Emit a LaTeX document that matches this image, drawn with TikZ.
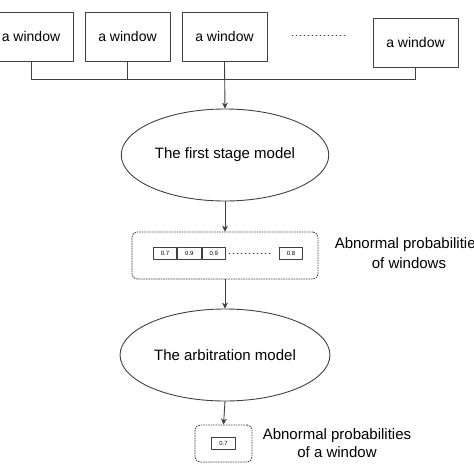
\documentclass[tikz,border=0pt]{standalone}
\usepackage{fontspec}
\setmainfont{Liberation Sans}
\usetikzlibrary{shapes.geometric, arrows.meta}
\tikzset{
	win/.style={draw, minimum width=85pt, minimum height=49pt, font=\fontsize{14}{16}\selectfont},
	model/.style={draw, ellipse, minimum width=176pt, minimum height=92pt, font=\fontsize{15}{17}\selectfont},
	group/.style={draw, dash pattern=on 1pt off 1.5pt, rounded corners=5pt},
	cell/.style={draw, minimum width=23.5pt, minimum height=12pt, inner sep=0pt, font=\fontsize{6}{7}\selectfont},
	note/.style={align=center}
}
\begin{document}
\begin{tikzpicture}[x=1pt, y=-1pt, >={Stealth[length=6pt, width=6pt]}, line cap = round, line join = round, line width=0.9pt, draw=black!75]
		\useasboundingbox (0,0) rectangle (474,474);
		% windows
		\node[win, minimum width=84pt] (w1) at (31,36.5) {a window};
		\node[win] (w2) at (127.5,36.5) {a window};
		\node[win] (w3) at (224.5,36.5) {a window};
		\node[win] (w5) at (415.5,42.5) {a window};
		\draw[line width=0.9pt, dash pattern=on 1pt off 3pt] (292,35)--(347,35);
		\coordinate (bus) at (0,79);
		\draw (w1.south) |- (w5.south |- bus)--(w5.south);
		\draw (w2.south)--(w2.south |- bus);
		% models
		\node[model] (m1) at (225,155) {The first stage model};
		\node[model] (m2) at (225,355) {The arbitration model};
		% probabilities
		\node[group, minimum width=186pt, minimum height=47pt] (probs) at (225,255.5) {};
		\node[cell] (p1) at (165,253) {0.7};
		\node[cell, anchor=west] (p2) at (p1.east) {0.9};
		\node[cell, anchor=west] (p3) at (p2.east) {0.9};
		\node[cell] (pn) at (291,253) {0.8};
		\draw[line width=0.9pt, dash pattern=on 1pt off 3pt] (229,253)--(272,253);
		\node[note, font=\fontsize{15}{20}\selectfont] (lab1) at (409,253) {Abnormal probabilities\\of windows};
		\node[group, minimum width=57pt, minimum height=37pt] (final) at (223.5,443.5) {};
		\node[cell] (q1) at (223.5,443) {0.7};
		\node[note, font=\fontsize{15}{18}\selectfont] (lab2) at (337,443) {Abnormal probabilities\\of a window};
		% arrows
		\draw[->] (w3.south)--(m1.north);
		\draw[->] (m1.south)--(probs.north);
		\draw[->] (probs.south)--(m2.north);
		\draw[->] (m2.south)--(final.north);
\end{tikzpicture}
\end{document}
